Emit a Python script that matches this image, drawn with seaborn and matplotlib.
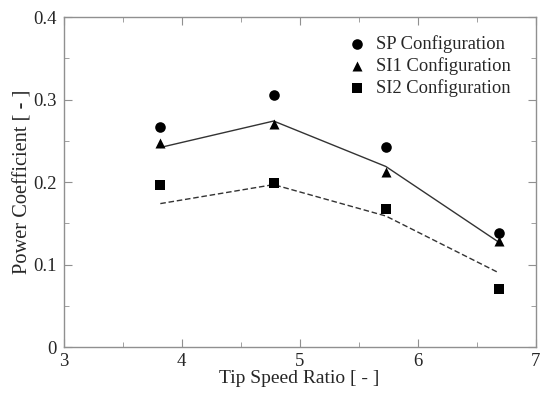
import numpy as np
import pandas as pd
import seaborn as sns
import matplotlib.pyplot as plt
from matplotlib.ticker import MultipleLocator, FuncFormatter

# tip speed ratio where each configuration was evaluated
tsr = [3.82, 4.78, 5.73, 6.69]

# measured / simulated power coefficients
cp_sp = [0.267, 0.305, 0.243, 0.138]
cp_si1 = [0.247, 0.270, 0.212, 0.129]
cp_si2 = [0.196, 0.199, 0.167, 0.071]

# fitted trend lines
cp_line_solid = [0.242, 0.274, 0.219, 0.127]
cp_line_dashed = [0.174, 0.197, 0.159, 0.090]

df = pd.DataFrame({'tsr': tsr, 'sp': cp_sp, 'si1': cp_si1, 'si2': cp_si2,
                   'solid': cp_line_solid, 'dashed': cp_line_dashed})


def main():
    sns.set_style('ticks')
    plt.rcParams['font.family'] = ['Liberation Serif', 'DejaVu Serif']

    fig = plt.figure(figsize=(5.5, 4.01), dpi=100)
    ax = fig.add_axes([0.1155, 0.134, 0.8585, 0.8236])

    sns.lineplot(data=df, x='tsr', y='solid', color='#333333', lw=1.0, ax=ax)
    sns.lineplot(data=df, x='tsr', y='dashed', color='#333333', lw=1.0,
                 linestyle=(0, (4, 2)), ax=ax)

    sns.scatterplot(data=df, x='tsr', y='sp', marker='o', s=58, color='black',
                    linewidth=0, label='SP Configuration', ax=ax, zorder=3)
    sns.scatterplot(data=df, x='tsr', y='si1', marker='^', s=52, color='black',
                    linewidth=0, label='SI1 Configuration', ax=ax, zorder=3)
    sns.scatterplot(data=df, x='tsr', y='si2', marker='s', s=42, color='black',
                    linewidth=0, label='SI2 Configuration', ax=ax, zorder=3)

    ax.set_xlim(3, 7)
    ax.set_ylim(0, 0.4)
    ax.xaxis.set_major_locator(MultipleLocator(1))
    ax.xaxis.set_minor_locator(MultipleLocator(0.5))
    ax.yaxis.set_major_locator(MultipleLocator(0.1))
    ax.yaxis.set_minor_locator(MultipleLocator(0.05))
    ax.yaxis.set_major_formatter(FuncFormatter(lambda v, p: '0' if abs(v) < 1e-9 else f'{v:.1f}'))

    for sp in ax.spines.values():
        sp.set_color('#909090')
        sp.set_linewidth(1.0)
    ax.tick_params(which='both', direction='in', top=True, right=True,
                   color='#909090', labelsize=13.5)
    ax.tick_params(which='major', length=6)
    ax.tick_params(which='minor', length=3.5)
    ax.tick_params(axis='y', pad=5)
    ax.tick_params(axis='x', pad=4)

    ax.set_xlabel('Tip Speed Ratio [ - ]', fontsize=14, labelpad=0)
    ax.set_ylabel('Power Coefficient [ - ]', fontsize=14.7, labelpad=0.5)

    ax.legend(loc='upper left', bbox_to_anchor=(0.603, 0.945), frameon=False,
              fontsize=13.3, handlelength=1.0, handletextpad=0.5,
              labelspacing=0.23, borderpad=0, borderaxespad=0)

    fig.savefig('out.png', dpi=100)


if __name__ == '__main__':
    main()
